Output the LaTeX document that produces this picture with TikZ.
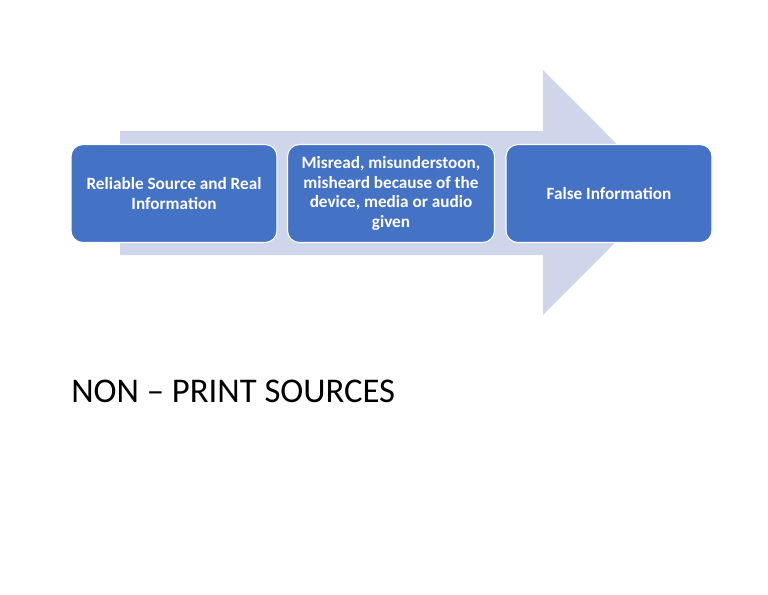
\documentclass[tikz,border=0pt]{standalone}
\usepackage{fontspec}
\setmainfont{Carlito}
\begin{document}
\begin{tikzpicture}[x=0.75pt,y=-0.75pt,
  stepbox/.style={draw=white,line width=0.8pt,fill=boxblue,rounded corners=9pt,
    text=white,align=center,font=\bfseries\fontsize{12.9}{14.6}\selectfont,inner sep=0pt},
]
\definecolor{boxblue}{HTML}{4472C4}
\definecolor{arrowfill}{HTML}{CFD5EA}
\useasboundingbox (0,0) rectangle (768,594);
\fill[arrowfill] (120,131) -- (543,131) -- (543,70) -- (665,192.5) -- (543,315) -- (543,255) -- (120,255) -- cycle;
\node[stepbox,minimum width=206*0.75pt,minimum height=98*0.75pt] (b1) at (174,193.5) {Reliable Source and Real\\Information};
\node[stepbox,minimum width=207*0.75pt,minimum height=98*0.75pt] (b2) at (391,193.5) {Misread, misunderstoon,\\misheard because of the\\device, media or audio\\given};
\node[stepbox,minimum width=206*0.75pt,minimum height=98*0.75pt] (b3) at (609,193.5) {False Information};
\node[anchor=west,inner sep=0pt,font=\fontsize{26}{30}\selectfont] (t) at (71,391) {NON – PRINT SOURCES};
\end{tikzpicture}
\end{document}
